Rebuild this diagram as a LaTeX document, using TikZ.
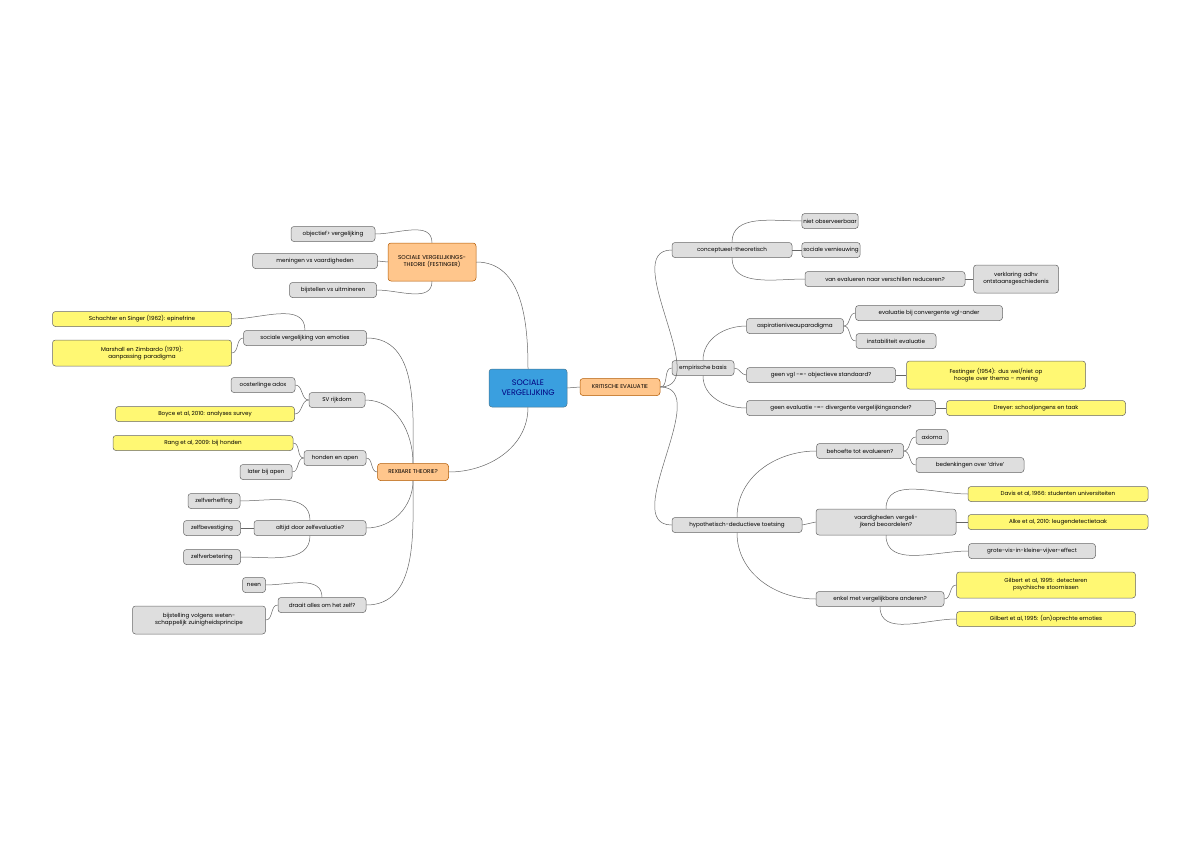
\documentclass[tikz,border=0pt]{standalone}
\usepackage{fontspec}
\setmainfont{Poppins}
\begin{document}
\begin{tikzpicture}[x=1pt,y=-1pt,
 base/.style={draw=black!60,rounded corners=3,font=\fontsize{5.6}{7}\selectfont,align=center,inner sep=1.5,minimum height=15,line width=0.5},
 gb/.style={base,fill=black!13},
 yb/.style={base,fill=yellow!55},
 ob/.style={base,fill=orange!45,draw=orange!70!black},
 conn/.style={draw=black!60,line width=0.5}]
\useasboundingbox (0,0) rectangle (1200,848);
\node[base,fill=cyan!75!blue!80,draw=cyan!50!black,text=blue!50!black,font=\fontsize{8}{10}\selectfont,minimum width=78,minimum height=38,text width=74] (root) at (528,388) {SOCIALE VERGELIJKING};
\node[ob,minimum width=80,minimum height=17] (krit) at (620,387) {KRITISCHE EVALUATIE};
\node[ob,minimum width=87,minimum height=38,text width=85] (fest) at (432,262) {SOCIALE VERGELIJKINGSTHEORIE (FESTINGER)};
\node[ob,minimum width=71,minimum height=17] (flex) at (413,472) {REXBARE THEORIE?};
% left
\node[gb,minimum width=84] (l1) at (333,234) {objectief> vergelijking};
\node[gb,minimum width=125] (l2) at (315,261) {meningen vs vaardigheden};
\node[gb,minimum width=87] (l3) at (333,290) {bijstellen vs uitmineren};
\node[gb,minimum width=123] (e) at (305,338) {sociale vergelijking van emoties};
\node[yb,minimum width=179] (e1) at (142,319) {Schachter en Singer (1962): epinefrine};
\node[yb,minimum width=179,minimum height=26,text width=150] (e2) at (142,353) {Marshall en Zimbardo (1979): aanpassing paradigma};
\node[gb,minimum width=64] (s1) at (263,385) {oosterlinge adox};
\node[gb,minimum width=56] (sv) at (337,400) {SV rijkdom};
\node[yb,minimum width=179] (s2) at (205,414) {Boyce et al, 2010: analyses survey};
\node[yb,minimum width=180] (h1) at (203,443) {Rang et al, 2009: bij honden};
\node[gb,minimum width=62] (h) at (335,458) {honden en apen};
\node[gb,minimum width=52] (h2) at (266,472) {later bij apen};
\node[gb,minimum width=52] (z1) at (214,501) {zelfverheffing};
\node[gb,minimum width=57] (z2) at (212,528) {zelfbevestiging};
\node[gb,minimum width=112] (z) at (310,528) {altijd door zelfevaluatie?};
\node[gb,minimum width=57] (z3) at (212,557) {zelfverbetering};
\node[gb,minimum width=23] (d1) at (254,585) {neen};
\node[gb,minimum width=88] (d) at (322,605) {draait alles om het zelf?};
\node[gb,minimum width=133,minimum height=28,text width=130] (d2) at (199,620) {bijstelling volgens wetenschappelijk zuinigheidsprincipe};
% right
\node[gb,minimum width=120] (ct) at (732,250) {conceptueel-theoretisch};
\node[gb,minimum width=51] (c1) at (830,221) {niet observeerbaar};
\node[gb,minimum width=52] (c2) at (831,250) {sociale vernieuwing};
\node[gb,minimum width=160] (c3) at (885,279) {van evalueren naar verschillen reduceren?};
\node[gb,minimum width=84,minimum height=28,text width=82] (c4) at (1016,279) {verklaring adhv ontstaansgeschiedenis};
\node[gb,minimum width=62] (eb) at (703,368) {empirische basis};
\node[gb,minimum width=97] (a) at (795,326) {aspiratieniveauparadigma};
\node[gb,minimum width=147] (a1) at (929,313) {evaluatie bij convergente vgl-ander};
\node[gb,minimum width=80] (a2) at (896,341) {instabiliteit evaluatie};
\node[gb,minimum width=149] (gv) at (821,375) {geen vgl -=- objectieve standaard?};
\node[yb,minimum width=179,minimum height=28,text width=160] (fe) at (996,375) {Festinger (1954): dus wel/niet op hoogte over thema -- mening};
\node[gb,minimum width=189] (ge) at (841,408) {geen evaluatie -=- divergente vergelijkingsander?};
\node[yb,minimum width=179] (dr) at (1036,408) {Dreyer: schooljongens en taak};
\node[gb,minimum width=130] (hd) at (737,525) {hypothetisch-deductieve toetsing};
\node[gb,minimum width=87] (b) at (860,451) {behoefte tot evalueren?};
\node[gb,minimum width=32] (b1) at (932,437) {axioma};
\node[gb,minimum width=108] (b2) at (970,465) {bedenkingen over `drive'};
\node[gb,minimum width=140,minimum height=26,text width=110] (v) at (886,522) {vaardigheden vergelijkend beoordelen?};
\node[yb,minimum width=180] (v1) at (1058,494) {Davis et al, 1966: studenten universiteiten};
\node[yb,minimum width=180] (v2) at (1058,522) {Alke et al, 2010: leugendetectietaak};
\node[gb,minimum width=127] (v3) at (1032,551) {grote-vis-in-kleine-vijver-effect};
\node[gb,minimum width=128] (en) at (880,599) {enkel met vergelijkbare anderen?};
\node[yb,minimum width=179,minimum height=26,text width=150] (g1) at (1046,585) {Gilbert et al, 1995: detecteren psychische stoornissen};
\node[yb,minimum width=179] (g2) at (1046,619) {Gilbert et al, 1995: (on)oprechte emoties};
% connectors
\draw[conn] (root.east) -- (krit.west);
\draw[conn] (root.north) to[out=90,in=0] (fest.east);
\draw[conn] (root.south) to[out=-90,in=0] (flex.east);
\draw[conn] (fest.north) to[out=90,in=0] (l1.east);
\draw[conn] (fest.west) -- (l2.east);
\draw[conn] (fest.south) to[out=-90,in=0] (l3.east);
\draw[conn] (flex.north) to[out=90,in=0] (e.east);
\draw[conn] (flex.north) to[out=90,in=0] (sv.east);
\draw[conn] (flex.west) to[out=180,in=0] (h.east);
\draw[conn] (flex.south) to[out=-90,in=0] (z.east);
\draw[conn] (flex.south) to[out=-90,in=0] (d.east);
\draw[conn] (e.north) to[out=90,in=0] (e1.east);
\draw[conn] (e.west) to[out=180,in=0] (e2.east);
\draw[conn] (sv.west) to[out=180,in=0] (s1.east);
\draw[conn] (sv.west) to[out=180,in=0] (s2.east);
\draw[conn] (h.west) to[out=180,in=0] (h1.east);
\draw[conn] (h.west) to[out=180,in=0] (h2.east);
\draw[conn] (z.north) to[out=90,in=0] (z1.east);
\draw[conn] (z.west) -- (z2.east);
\draw[conn] (z.south) to[out=-90,in=0] (z3.east);
\draw[conn] (d.north) to[out=90,in=0] (d1.east);
\draw[conn] (d.west) to[out=180,in=0] (d2.east);
\draw[conn] (krit.east) to[out=0,in=180] (ct.west);
\draw[conn] (krit.east) to[out=0,in=180] (eb.west);
\draw[conn] (krit.east) to[out=0,in=180] (hd.west);
\draw[conn] (ct.north) to[out=90,in=180] (c1.west);
\draw[conn] (ct.east) -- (c2.west);
\draw[conn] (ct.south) to[out=-90,in=180] (c3.west);
\draw[conn] (c3.east) -- (c4.west);
\draw[conn] (eb.north) to[out=90,in=180] (a.west);
\draw[conn] (eb.east) to[out=0,in=180] (gv.west);
\draw[conn] (eb.south) to[out=-90,in=180] (ge.west);
\draw[conn] (a.east) to[out=0,in=180] (a1.west);
\draw[conn] (a.east) to[out=0,in=180] (a2.west);
\draw[conn] (gv.east) -- (fe.west);
\draw[conn] (ge.east) -- (dr.west);
\draw[conn] (hd.north) to[out=90,in=180] (b.west);
\draw[conn] (hd.east) -- (v.west);
\draw[conn] (hd.south) to[out=-90,in=180] (en.west);
\draw[conn] (b.east) to[out=0,in=180] (b1.west);
\draw[conn] (b.east) to[out=0,in=180] (b2.west);
\draw[conn] (v.north) to[out=90,in=180] (v1.west);
\draw[conn] (v.east) -- (v2.west);
\draw[conn] (v.south) to[out=-90,in=180] (v3.west);
\draw[conn] (en.east) to[out=0,in=180] (g1.west);
\draw[conn] (en.south) to[out=-90,in=180] (g2.west);
\end{tikzpicture}
\end{document}
